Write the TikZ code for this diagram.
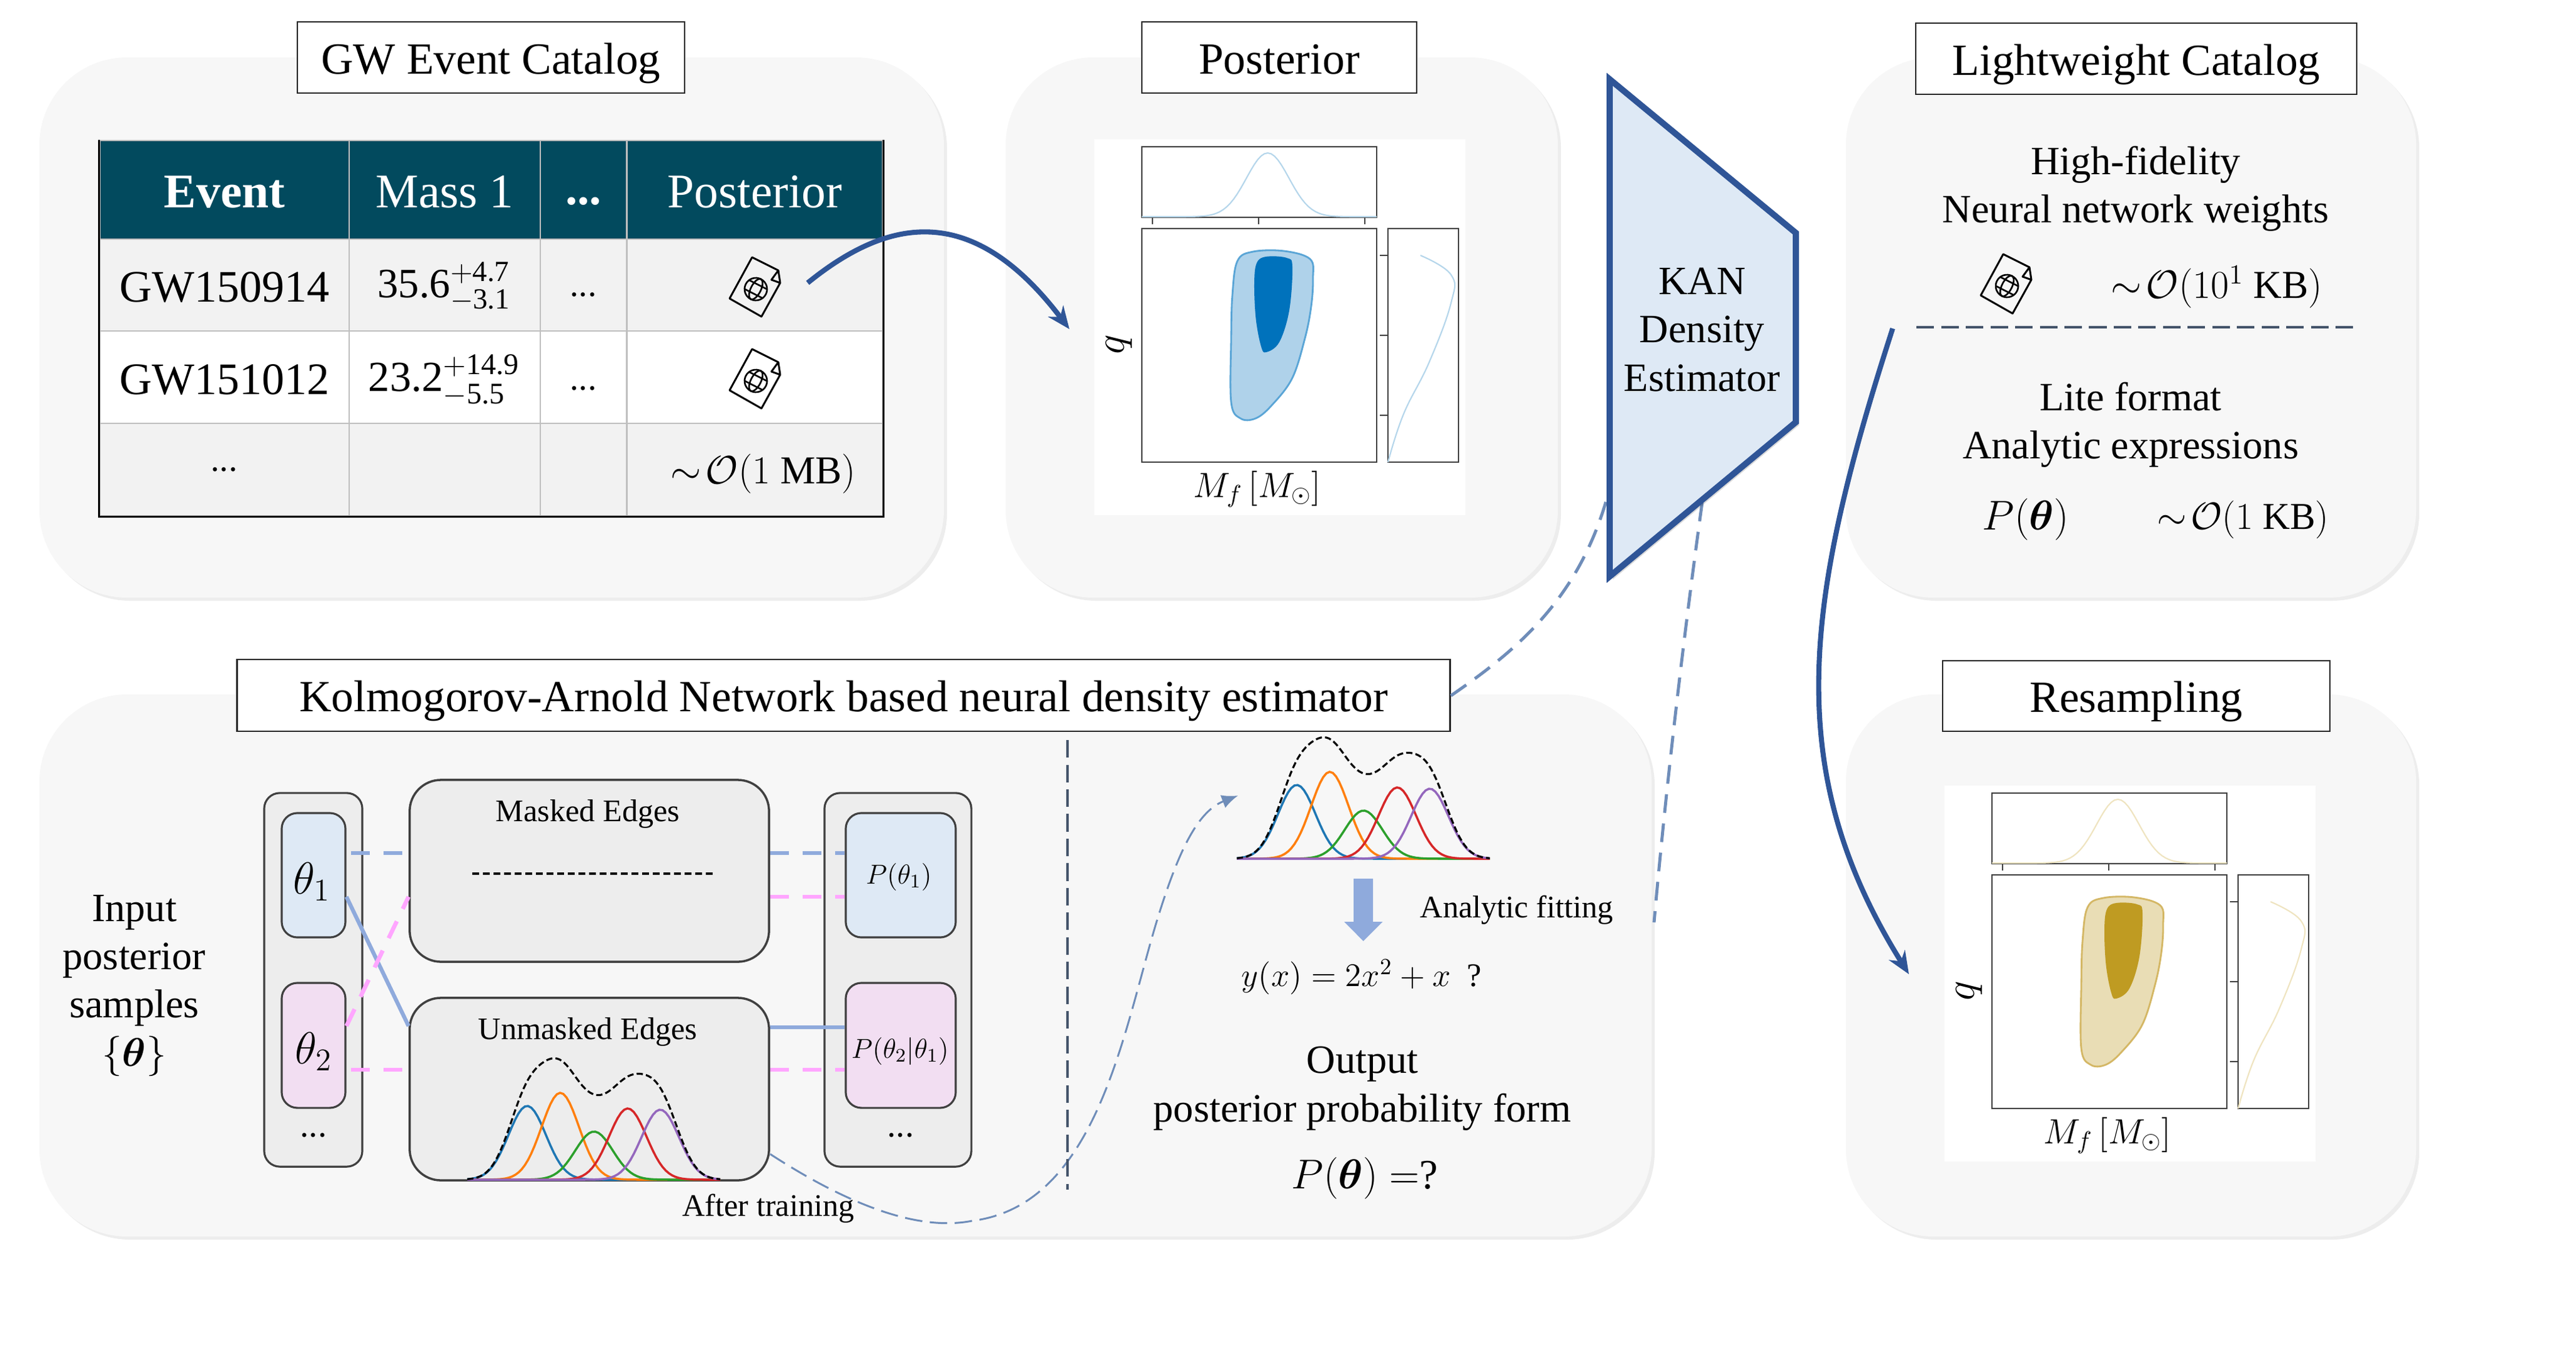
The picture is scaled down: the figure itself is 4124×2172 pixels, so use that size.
\documentclass[tikz,border=0pt]{standalone}
\usepackage{fix-cm}
\usepackage{amsmath}
\usepackage{fontspec}
\setmainfont{Liberation Serif}
\usetikzlibrary{arrows.meta,shadows}
\definecolor{panelgray}{HTML}{F7F7F7}
\definecolor{boxgray}{HTML}{EDEDED}
\definecolor{linegray}{HTML}{404040}
\definecolor{gridgray}{HTML}{BFBFBF}
\definecolor{rowgray}{HTML}{F2F2F2}
\definecolor{headteal}{HTML}{024A5E}
\definecolor{kanblue}{HTML}{2F5597}
\definecolor{kanfill}{HTML}{DEE9F5}
\definecolor{softblue}{HTML}{8FAADC}
\definecolor{softpink}{HTML}{FFA6FF}
\definecolor{pinkfill}{HTML}{F2DEF2}
\definecolor{dashblue}{HTML}{6F8DB9}
\definecolor{slate}{HTML}{44546A}
\definecolor{outerblue}{HTML}{AFD2EA}
\definecolor{edgeblue}{HTML}{5AA5D6}
\definecolor{innerblue}{HTML}{0072BC}
\definecolor{curveblue}{HTML}{B5D6EB}
\definecolor{outergold}{HTML}{E9DDB5}
\definecolor{edgegold}{HTML}{D4B765}
\definecolor{innergold}{HTML}{BF9B22}
\definecolor{curvegold}{HTML}{EFE4C0}

\begin{document}
\begin{tikzpicture}[x=0.01cm,y=-0.01cm]

\tikzset{declare function={gauss(\t,\m,\a)=\a*exp(-0.5*((\t-\m)/30)*((\t-\m)/30));}}
\tikzset{panel/.style = {fill=panelgray,rounded corners=1.4cm,drop shadow={shadow xshift=0.05cm,shadow yshift=-0.05cm,opacity=0.07,fill=black}}}
\tikzset{titlebox/.style = {shape=rectangle,draw=black!85,fill=white,line width=0.7pt,inner sep=0,text height=0.6cm,text depth=0.08cm,font=\fontsize{20.3}{25}\selectfont}}
\tikzset{cell/.style = {shape=rectangle,draw=gridgray,line width=0.8pt,inner sep=0,text height=0.56cm,text depth=0.02cm,font=\fontsize{20.5}{25}\selectfont}}
\tikzset{headcell/.style = {cell,fill=headteal,text=white,text height=0.62cm,text depth=0.06cm,font=\fontsize{22}{26}\selectfont}}
\tikzset{colbox/.style = {shape=rectangle,draw=linegray,fill=boxgray,line width=0.9pt,rounded corners=0.25cm,inner sep=0}}
\tikzset{edgebox/.style = {shape=rectangle,draw=linegray,fill=boxgray,line width=1pt,rounded corners=0.5cm,inner sep=0}}
\tikzset{txt/.style = {align=center,inner sep=0,font=\fontsize{18.3}{22}\selectfont}}
\tikzset{smalltxt/.style = {inner sep=0,font=\fontsize{14.3}{17}\selectfont}}
\tikzset{mathtxt/.style = {inner sep=0,font=\fontsize{18}{22}\selectfont}}
\tikzset{dots/.style = {inner sep=0,font=\fontsize{16}{20}\selectfont}}
\tikzset{bluedash/.style = {softblue,line width=1.9pt,dash pattern=on 0.3cm off 0.22cm}}
\tikzset{pinkdash/.style = {softpink,line width=1.9pt,dash pattern=on 0.3cm off 0.22cm}}
\tikzset{blueedge/.style = {softblue,line width=1.8pt}}
\tikzset{flowarrow/.style = {kanblue,line width=2.3pt,-{Stealth[length=0.36cm,width=0.3cm]}}}
\tikzset{kandash/.style = {dashblue,line width=1.4pt,dash pattern=on 0.3cm off 0.17cm}}
\tikzset{thindash/.style = {dashblue,line width=0.85pt,dash pattern=on 0.28cm off 0.12cm}}
\tikzset{rule/.style = {slate,line width=0.9pt,dash pattern=on 0.28cm off 0.1147cm}}
\tikzset{docicon/.pic = {
  \draw[line width=0.85pt,line join=round] (-4,-47) -- (38,-26) -- (41,-6) -- (11,48) -- (-40,19) -- cycle;
  \draw[line width=0.85pt,line join=round] (38,-26) -- (27,-11) -- (41,-6);
  \begin{scope}[shift={(2,4)},rotate=-27,line width=0.75pt]
  \draw (0,0) circle [radius=0.18cm];
  \draw (0,0) ellipse [x radius=0.08cm,y radius=0.18cm];
  \draw (-16,-8) -- (16,-8);
  \draw (-16,8) -- (16,8);
  \end{scope}
}}
\tikzset{mixture/.pic = {
  \draw[line width=1pt,color={rgb,255:red,31;green,119;blue,180}] plot[domain=0:405,samples=80] (\x,{-gauss(\x,96,118)});
  \draw[line width=1pt,color={rgb,255:red,255;green,127;blue,14}] plot[domain=0:405,samples=80] (\x,{-gauss(\x,149,139)});
  \draw[line width=1pt,color={rgb,255:red,44;green,160;blue,44}] plot[domain=0:405,samples=80] (\x,{-gauss(\x,203,77)});
  \draw[line width=1pt,color={rgb,255:red,214;green,39;blue,40}] plot[domain=0:405,samples=80] (\x,{-gauss(\x,257,114)});
  \draw[line width=1pt,color={rgb,255:red,148;green,103;blue,189}] plot[domain=0:405,samples=80] (\x,{-gauss(\x,309,112)});
  \draw[line width=0.9pt,dash pattern=on 0.1cm off 0.05cm] plot[domain=0:405,samples=100]
    (\x,{-1.07*(gauss(\x,96,118)+gauss(\x,149,139)+gauss(\x,203,77)+gauss(\x,257,114)+gauss(\x,309,112))});
}}
\tikzset{pics/cornerplot/.style n args = {4}{code = {
  \fill[white] (0,0) rectangle (594,602);
  \draw[linegray,line width=0.6pt] (76,12) rectangle (452,125);
  \draw[linegray,line width=0.6pt] (76,143) rectangle (452,517);
  \draw[linegray,line width=0.6pt] (470,143) rectangle (583,517);
  \draw[linegray,line width=0.5pt] (93,125) -- (93,136);
  \draw[linegray,line width=0.5pt] (263,125) -- (263,136);
  \draw[linegray,line width=0.5pt] (433,125) -- (433,136);
  \draw[linegray,line width=0.5pt] (457,186) -- (470,186);
  \draw[linegray,line width=0.5pt] (457,314) -- (470,314);
  \draw[linegray,line width=0.5pt] (457,442) -- (470,442);
  \draw[#4,line width=0.6pt] plot[domain=76:452,samples=70] (\x,{124-102*exp(-0.5*((\x-277.5)/34)*((\x-277.5)/34))});
  \draw[#4,line width=0.6pt] plot[smooth,tension=0.7] coordinates {(522,186) (571,217) (571,262) (536,357) (495,440) (470,517)};
  \draw[fill=#1,draw=#2,line width=0.8pt] plot[smooth cycle,tension=0.6] coordinates {(229,195) (254,180) (304,179) (345.5,192) (350,223) (347,268) (337,319) (316.5,383) (283,427) (258,447) (234,447) (219,421) (219,319) (221,249)};
  \fill[#3] plot[smooth cycle,tension=0.6] coordinates {(260,198) (275,188) (308,190) (317,204) (312,274) (296,325) (275,341) (267,332) (258.5,287) (256,230)};
  \node[inner sep=0,rotate=90,font=\fontsize{19}{22}\selectfont] (-ylabel) at (40,329) {$q$};
  \node[inner sep=0,font=\fontsize{16}{20}\selectfont] (-xlabel) at (261,560) {$M_f\,[M_\odot]$};
}}}

\useasboundingbox (0,0) rectangle (4124,2172);

%panels
\fill[panel] (63,92) rectangle (1511,957);
\fill[panel] (1610,92) rectangle (2494,957);
\fill[panel] (2955,92) rectangle (3868,957);
\fill[panel] (63,1112) rectangle (2644,1980);
\fill[panel] (2955,1112) rectangle (3868,1980);

%titles
\node[titlebox,minimum width=6.2cm,minimum height=1.14cm] (gwtitle) at (786,92) {GW Event Catalog};
\node[titlebox,minimum width=4.4cm,minimum height=1.14cm] (posttitle) at (2048,92) {Posterior};
\node[titlebox,minimum width=7.06cm,minimum height=1.14cm] (lighttitle) at (3420,94) {Lightweight Catalog};
\node[titlebox,minimum width=19.41cm,minimum height=1.15cm] (kantitle) at (1350.5,1113.5) {Kolmogorov-Arnold Network based neural density estimator};
\node[titlebox,minimum width=6.2cm,minimum height=1.13cm] (resampletitle) at (3420,1114.5) {Resampling};

%table
\node[headcell,font=\bfseries\fontsize{22}{26}\selectfont,minimum width=3.99cm,minimum height=1.58cm] (c11) at (359.5,304) {Event};
\node[headcell,minimum width=3.06cm,minimum height=1.58cm] (c12) at (712,304) {Mass 1};
\node[headcell,minimum width=1.39cm,minimum height=1.58cm] (c13) at (934.5,304) {};
\node[headcell,minimum width=4.09cm,minimum height=1.58cm] (c14) at (1208.5,304) {Posterior};
\node[cell,fill=rowgray,minimum width=3.99cm,minimum height=1.47cm] (c21) at (359.5,456.5) {GW150914};
\node[cell,fill=rowgray,minimum width=3.06cm,minimum height=1.47cm] (c22) at (712,456.5) {};
\node[cell,fill=rowgray,minimum width=1.39cm,minimum height=1.47cm] (c23) at (934.5,456.5) {};
\node[cell,fill=rowgray,minimum width=4.09cm,minimum height=1.47cm] (c24) at (1208.5,456.5) {};
\node[cell,fill=white,minimum width=3.99cm,minimum height=1.48cm] (c31) at (359.5,604) {GW151012};
\node[cell,fill=white,minimum width=3.06cm,minimum height=1.48cm] (c32) at (712,604) {};
\node[cell,fill=white,minimum width=1.39cm,minimum height=1.48cm] (c33) at (934.5,604) {};
\node[cell,fill=white,minimum width=4.09cm,minimum height=1.48cm] (c34) at (1208.5,604) {};
\node[cell,fill=rowgray,minimum width=3.99cm,minimum height=1.48cm] (c41) at (359.5,752) {};
\node[cell,fill=rowgray,minimum width=3.06cm,minimum height=1.48cm] (c42) at (712,752) {};
\node[cell,fill=rowgray,minimum width=1.39cm,minimum height=1.48cm] (c43) at (934.5,752) {};
\node[cell,fill=rowgray,minimum width=4.09cm,minimum height=1.48cm] (c44) at (1208.5,752) {};
\node[inner sep=0,text=white,font=\bfseries\fontsize{22}{26}\selectfont] (headdots) at (934,322) {...};
\node[inner sep=0,font=\fontsize{19}{23}\selectfont] (massone) at (711,459) {$\text{35.6}^{+\text{4.7}}_{-\text{3.1}}$};
\node[inner sep=0,font=\fontsize{19.5}{23}\selectfont] (masstwo) at (711,609) {$\text{23.2}^{+\text{14.9}}_{-\text{5.5}}$};
\node[dots] (rowonedots) at (934,472) {...};
\node[dots] (rowtwodots) at (934,622) {...};
\node[dots] (lastdots) at (359,752) {...};
\node[mathtxt] (catsize) at (1222,759) {$\sim\!\mathcal{O}(1\ \text{MB})$};
\draw[line width=1pt] (c11.north west) -- (c41.south west) -- (c44.south east) -- (c14.north east);
\pic (rowone) at (1208,459) {docicon};
\pic (rowtwo) at (1208,606) {docicon};

%posterior plots
\pic (post) at (1752,223) {cornerplot={outerblue}{edgeblue}{innerblue}{curveblue}};
\pic (resample) at (3113,1258) {cornerplot={outergold}{edgegold}{innergold}{curvegold}};

%dashed links to the estimator
\coordinate (kanin) at (2572,800);
\coordinate (kanout) at (2725,805);
\coordinate (fitend) at (2648,1477);
\draw[kandash] (kantitle.east |- 0,1114) .. controls (2430,1040) and (2525,960) .. (kanin);
\draw[kandash] (kanout) .. controls (2698,1000) and (2668,1250) .. (fitend);

%estimator
\draw[kanblue,fill=kanfill,line width=2.8pt,miter limit=10,drop shadow={shadow xshift=0.05cm,shadow yshift=-0.05cm,opacity=0.15,fill=black}]
  (2577,127) coordinate (kana) -- (2875,373) coordinate (kanb) -- (2875,676) coordinate (kanc) -- (2577,923) coordinate (kand) -- cycle;
\node[txt] (kanlabel) at (2725,528) {KAN\\Density\\Estimator};

%lightweight catalog
\node[txt] (hifi) at (3419,302) {High-fidelity\\Neural network weights};
\pic (liteicon) at (3211,454) {docicon};
\node[mathtxt] (hisize) at (3549,460) {$\sim\!\mathcal{O}(10^1\ \text{KB})$};
\coordinate (rulea) at (3068,524);
\coordinate (ruleb) at (3767,524);
\draw[rule] (rulea) -- (ruleb);
\node[txt] (lite) at (3411,680) {Lite format\\Analytic expressions};
\node[inner sep=0,font=\fontsize{19}{23}\selectfont] (litep) at (3243,832) {$P(\boldsymbol{\theta})$};
\node[inner sep=0,font=\fontsize{17.3}{21}\selectfont] (litesize) at (3591,832) {$\sim\!\mathcal{O}(1\ \text{KB})$};

%network
\node[txt] (inputlabel) at (215,1578) {Input\\posterior\\samples\\$\{\boldsymbol{\theta}\}$};
\node[colbox,minimum width=1.57cm,minimum height=5.98cm] (leftcol) at (501.5,1569) {};
\node[colbox,minimum width=2.35cm,minimum height=5.98cm] (rightcol) at (1437.5,1569) {};
\node[colbox,fill=kanfill,minimum width=1.02cm,minimum height=1.99cm] (thetaone) at (502,1401.5) {};
\node[colbox,fill=pinkfill,minimum width=1.02cm,minimum height=2.0cm] (thetatwo) at (502,1674) {};
\node[colbox,fill=kanfill,minimum width=1.76cm,minimum height=1.99cm] (pone) at (1442,1401.5) {};
\node[colbox,fill=pinkfill,minimum width=1.76cm,minimum height=2.0cm] (ptwo) at (1442,1674) {};
\node[edgebox,minimum width=5.75cm,minimum height=2.91cm] (masked) at (943.5,1394.5) {};
\node[edgebox,minimum width=5.75cm,minimum height=2.92cm] (unmasked) at (943.5,1744) {};
\node[inner sep=0,font=\fontsize{20.5}{24}\selectfont] (thetaonelabel) at (499,1412) {$\theta_1$};
\node[inner sep=0,font=\fontsize{20.5}{24}\selectfont] (thetatwolabel) at (502,1684) {$\theta_2$};
\node[inner sep=0,font=\fontsize{12.5}{15}\selectfont] (ponelabel) at (1439,1404) {$P(\theta_1)$};
\node[inner sep=0,font=\fontsize{12.5}{15}\selectfont] (ptwolabel) at (1441,1683) {$P(\theta_2|\theta_1)$};
\node[dots] (leftdots) at (502,1818) {...};
\node[dots] (rightdots) at (1442,1818) {...};
\node[smalltxt] (maskedlabel) at (941,1303) {Masked Edges};
\node[smalltxt] (unmaskedlabel) at (941,1652) {Unmasked Edges};
\coordinate (maskleft) at (756,1399);
\coordinate (maskright) at (1146,1399);
\draw[line width=0.9pt,dash pattern=on 0.11cm off 0.06cm] (maskleft) -- (maskright);
\pic (edgefit) at (748,1889) {mixture};

%edges
\draw[bluedash] (562,1366) -- (masked.west |- 0,1366);
\draw[bluedash] (masked.east |- 0,1366) -- (pone.west |- 0,1366);
\draw[pinkdash] (masked.east |- 0,1436) -- (pone.west |- 0,1436);
\draw[blueedge] (thetaone.east |- 0,1436) -- (unmasked.west |- 0,1643);
\draw[pinkdash] (thetatwo.east |- 0,1643) -- (masked.west |- 0,1436);
\draw[pinkdash] (562,1713) -- (unmasked.west |- 0,1713);
\draw[blueedge] (unmasked.east |- 0,1645) -- (ptwo.west |- 0,1645);
\draw[pinkdash] (unmasked.east |- 0,1713) -- (ptwo.west |- 0,1713);
\node[smalltxt] (afterlabel) at (1230,1935) {After training};

%after training curve
\coordinate (curvelow) at (1556,1955);
\coordinate (curvemid) at (1855,1465);
\coordinate (curvetip) at (1982,1274);
\draw[thindash,-{Latex[length=0.26cm,width=0.22cm]}] (unmasked.east |- 0,1848) .. controls (1390,1950) and (1490,1968) .. (curvelow)
  .. controls (1760,1930) and (1800,1640) .. (curvemid) .. controls (1885,1370) and (1915,1300) .. (curvetip);
\coordinate (dividera) at (1709,1185);
\coordinate (dividerb) at (1709,1905);
\draw[rule] (dividera) -- (dividerb);

%output side
\pic (outputfit) at (1980,1375) {mixture};
\fill[softblue] (2167,1407) -- (2198,1407) -- (2198,1476) -- (2213.5,1476) -- (2182.6,1507) -- (2152,1476) -- (2167,1476) -- cycle;
\node[smalltxt] (fitlabel) at (2428,1457) {Analytic fitting};
\node[inner sep=0,font=\fontsize{15}{18}\selectfont] (fitformula) at (2180,1565) {$y(x)=2x^2+x$ \ ?};
\node[txt] (outputlabel) at (2181,1743) {Output\\posterior probability form};
\node[inner sep=0,font=\fontsize{19}{23}\selectfont] (outputp) at (2185,1887) {$P(\boldsymbol{\theta})=$?};

%flow arrows
\coordinate (arrowa) at (1293,453);
\coordinate (arrowb) at (1712,527);
\draw[flowarrow] (arrowa) .. controls (1420,350) and (1555,320) .. (arrowb);
\coordinate (arrowc) at (3030,526);
\coordinate (arrowd) at (3056,1560);
\draw[flowarrow] (arrowc) .. controls (2890,960) and (2850,1230) .. (arrowd);

\end{tikzpicture}
\end{document}
